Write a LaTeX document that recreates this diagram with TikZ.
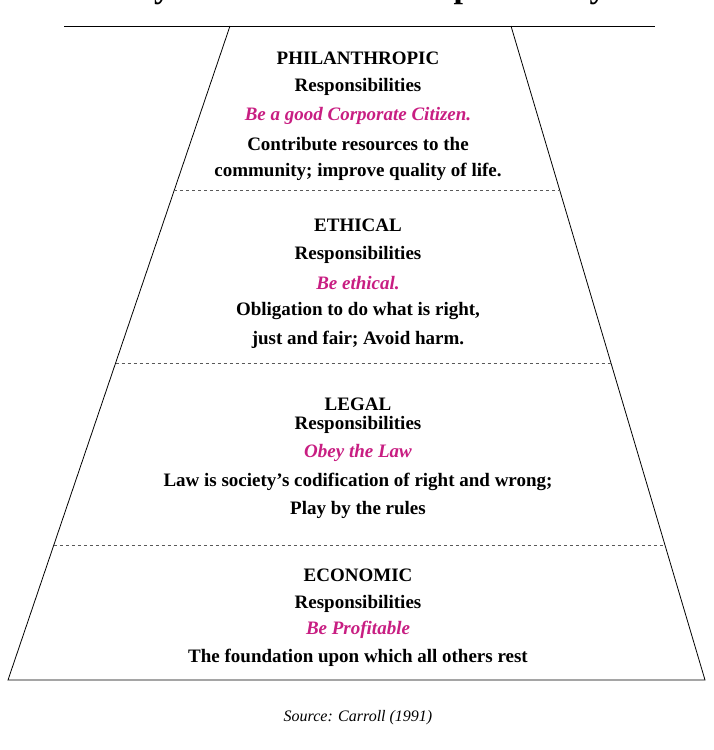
\documentclass[tikz,border=0pt]{standalone}
\usepackage{fontspec}
\setmainfont{Liberation Serif}
\usetikzlibrary{calc}
\definecolor{pink}{RGB}{200,30,130}
\begin{document}
\begin{tikzpicture}[x=1pt,y=-1pt,
  t/.style={font=\fontsize{19}{22}\selectfont\bfseries,inner sep=0pt},
  p/.style={t,font=\fontsize{19}{22}\selectfont\bfseries\itshape,text=pink},
  dl/.style={dashed,thin,gray!70!black}]
\useasboundingbox (0,0) rectangle (713,750);
\begin{scope}
\clip (0,0) rectangle (713,18);
\node[font=\fontsize{34}{40}\selectfont\bfseries,inner sep=0pt,anchor=base] (title) at (370,-3) {Pyramid of Social Responsibility};
\end{scope}
\draw[line width=0.9pt] (64,26) -- (655,26);
\coordinate (tl) at (230,26); \coordinate (tr) at (511,26);
\coordinate (bl) at (8,680); \coordinate (br) at (705,680);
\draw[line width=0.8pt] (tl) -- (bl) -- (br) -- (tr);
\foreach \y in {190,363,545}{
  \draw[dl] ($(tl)!{(\y-26)/654}!(bl)$) -- ($(tr)!{(\y-26)/654}!(br)$);}
\node[t] (a1) at (358,58) {PHILANTHROPIC};
\node[t] (a2) at (358,87) {Responsibilities};
\node[p] (a3) at (358,116) {Be a good Corporate Citizen.};
\node[t] (a4) at (358,144) {Contribute resources to the};
\node[t] (a5) at (358,172) {community; improve quality of life.};
\node[t] (b1) at (358,225) {ETHICAL};
\node[t] (b2) at (358,255) {Responsibilities};
\node[p] (b3) at (358,283) {Be ethical.};
\node[t] (b4) at (358,311) {Obligation to do what is right,};
\node[t] (b5) at (358,340) {just and fair; Avoid harm.};
\node[t] (c1) at (358,404) {LEGAL};
\node[t] (c2) at (358,425) {Responsibilities};
\node[p] (c3) at (358,453) {Obey the Law};
\node[t] (c4) at (358,482) {Law is society’s codification of right and wrong;};
\node[t] (c5) at (358,510) {Play by the rules};
\node[t] (d1) at (358,575) {ECONOMIC};
\node[t] (d2) at (358,604) {Responsibilities};
\node[p] (d3) at (358,630) {Be Profitable};
\node[t] (d4) at (358,658) {The foundation upon which all others rest};
\node[font=\fontsize{16}{18}\selectfont\itshape,inner sep=0pt] (src) at (358,718) {Source: Carroll (1991)};
\end{tikzpicture}
\end{document}
